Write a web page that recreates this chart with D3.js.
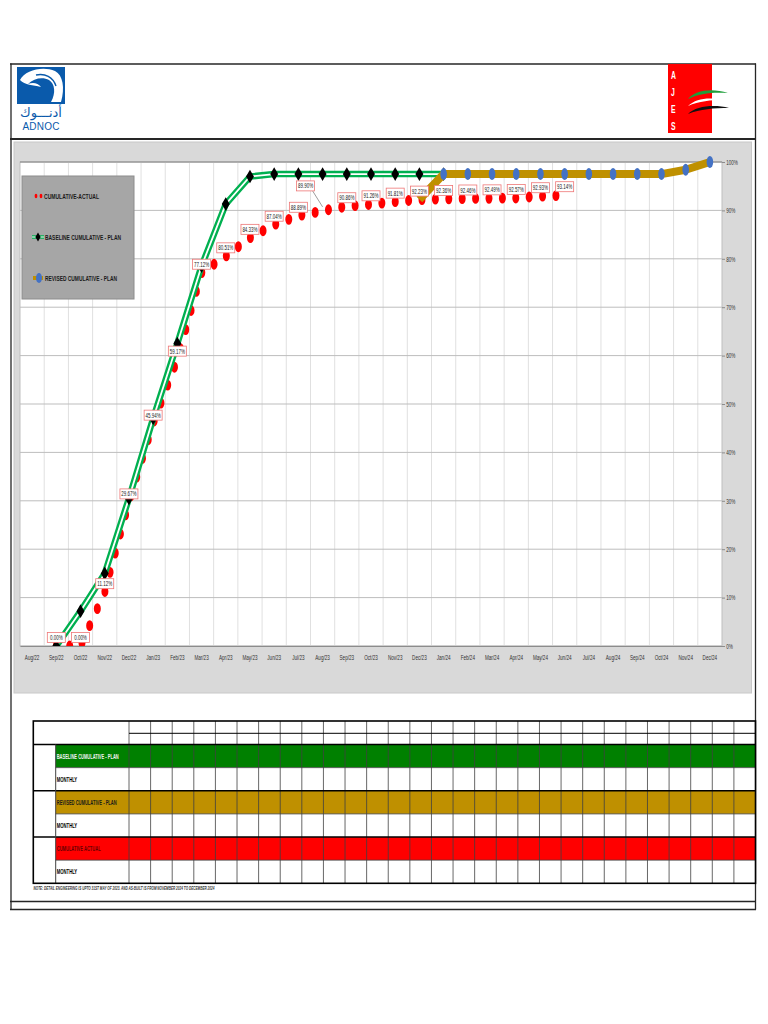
<!DOCTYPE html>
<html lang="en">
<head>
<meta charset="UTF-8">
<title>Progress S-Curve</title>
<script src="https://d3js.org/d3.v7.min.js"></script>
<style>
  body { margin: 0; background: #fff; }
  svg { display: block; font-family: "Liberation Sans", Arial, sans-serif; }
  .axis path, .axis line { stroke: #8c8c8c; }
  .axis text { fill: #333; font-size: 7.2px; }
</style>
</head>
<body>
<svg width="768" height="1024"></svg>
<script>
// ---- data (percent, aligned with months; null = no point) ----
const months = ["Aug/22","Sep/22","Oct/22","Nov/22","Dec/22","Jan/23","Feb/23","Mar/23","Apr/23",
  "May/23","Jun/23","Jul/23","Aug/23","Sep/23","Oct/23","Nov/23","Dec/23","Jan/24","Feb/24",
  "Mar/24","Apr/24","May/24","Jun/24","Jul/24","Aug/24","Sep/24","Oct/24","Nov/24","Dec/24"];

const actual = [null, 0, 0, 11.12, 29.67, 45.94, 59.17, 77.12, 80.51, 84.33, 87.04, 88.89, 89.90,
  90.86, 91.26, 91.81, 92.23, 92.36, 92.46, 92.49, 92.57, 92.93, 93.14,
  null, null, null, null, null, null];

const baseline = [null, 0, 7.2, 15.0, 30.5, 47.0, 62.5, 78.5, 91.3, 97.0, 97.5, 97.5, 97.5,
  97.5, 97.5, 97.5, 97.5, 97.5, null, null, null, null, null, null, null, null, null, null, null];

const revised = [null, null, null, null, null, null, null, null, null, null, null, null, null,
  null, null, null, 92.23, 97.5, 97.5, 97.5, 97.5, 97.5, 97.5, 97.5, 97.5, 97.5, 97.5, 98.4, 100];

const yTicks = [0, 10, 20, 30, 40, 50, 60, 70, 80, 90, 100];
const legendLabels = ["CUMULATIVE-ACTUAL", "BASELINE CUMULATIVE - PLAN", "REVISED CUMULATIVE - PLAN"];
const tableLabels = ["BASELINE CUMULATIVE - PLAN", "MONTHLY", "REVISED CUMULATIVE - PLAN",
  "MONTHLY", "CUMULATIVE ACTUAL", "MONTHLY"];
const note = "NOTE: DETAIL ENGINEERING IS UPTO 31ST MAY OF 2023. AND AS-BUILT IS FROM NOVEMBER 2024 TO DECEMBER 2024";

const GREEN = "#00B050", GOLD = "#BF9000", BLUE = "#4472C4", RED = "#FF0000";
const svg = d3.select("svg");
const narrow = "scale(0.64,1)";

// ---- page frame ----
svg.append("rect").attr("width", 768).attr("height", 1024).attr("fill", "#fff");
const frame = svg.append("g").attr("stroke", "#262626").attr("fill", "none");
frame.append("line").attr("x1", 11).attr("x2", 11).attr("y1", 63.5).attr("y2", 909.5).attr("stroke-width", 1.3);
frame.append("line").attr("x1", 755.5).attr("x2", 755.5).attr("y1", 63.5).attr("y2", 909.5).attr("stroke-width", 1.3);
frame.append("line").attr("x1", 10).attr("x2", 756).attr("y1", 64).attr("y2", 64).attr("stroke-width", 1.3);
frame.append("line").attr("x1", 10).attr("x2", 756).attr("y1", 139).attr("y2", 139).attr("stroke-width", 1.8);
frame.append("line").attr("x1", 10).attr("x2", 756).attr("y1", 901.5).attr("y2", 901.5).attr("stroke-width", 1.5);
frame.append("line").attr("x1", 10).attr("x2", 756).attr("y1", 909.5).attr("y2", 909.5).attr("stroke-width", 1.3);

// ---- ADNOC logo ----
const logo = svg.append("g");
logo.append("rect").attr("x", 17).attr("y", 67).attr("width", 48).attr("height", 37).attr("fill", "#0A5AAB");
logo.append("path").attr("fill", "#fff")
  .attr("d", "M20,80 C25,70 43,66 55,71 C63,75 65,88 61,102 L51,102 C56,93 55,84 49,80 C43,77 34,78 28,84 C33,82 38,83 41,87 C33,85 25,85 20,80 Z");
logo.append("path").attr("fill", "none").attr("stroke", "#0A5AAB").attr("stroke-width", 1.4)
  .attr("d", "M36,75 C45,73 53,77 56,86");
logo.append("text").attr("x", 41).attr("y", 117).attr("text-anchor", "middle")
  .attr("font-size", 13).attr("fill", "#0A5AAB").attr("font-family", "DejaVu Sans, sans-serif").text("أدنـــوك");
logo.append("text").attr("x", 41).attr("y", 129.5).attr("text-anchor", "middle")
  .attr("font-size", 10).attr("fill", "#0A5AAB").attr("letter-spacing", 0.2).text("ADNOC");

// ---- AJES logo ----
const ajes = svg.append("g");
ajes.append("rect").attr("x", 668).attr("y", 64).attr("width", 44).attr("height", 69).attr("fill", RED);
["A", "J", "E", "S"].forEach((c, i) => {
  ajes.append("text").attr("x", 671).attr("y", 79 + i * 17).attr("font-size", 11).attr("font-weight", "bold")
    .attr("fill", "#fff").attr("transform", "translate(671,0) scale(0.62,1) translate(-671,0)").text(c);
});
ajes.append("path").attr("fill", "#1E9E3A").attr("d", "M688,99 C695,90 712,88 728,93 C714,92 700,93 688,99 Z");
ajes.append("path").attr("fill", "#fff").attr("d", "M688,106 C696,98 710,97 723,100 C711,100 699,101 688,106 Z");
ajes.append("path").attr("fill", "#111").attr("d", "M688,114 C696,106 714,104 729,108 C714,108 700,109 688,114 Z");

// ---- chart area ----
svg.append("rect").attr("x", 14).attr("y", 142).attr("width", 737.5).attr("height", 551)
  .attr("fill", "#D9D9D9").attr("stroke", "#C8C8C8");

const plot = { left: 20, right: 722, top: 162, bottom: 646 };
svg.append("rect").attr("x", plot.left).attr("y", plot.top)
  .attr("width", plot.right - plot.left).attr("height", plot.bottom - plot.top)
  .attr("fill", "#fff").attr("stroke", "#BFBFBF");

const x = d3.scaleBand().domain(months).range([plot.left, plot.right]);
const cx = m => x(m) + x.bandwidth() / 2;
const y = d3.scaleLinear().domain([0, 100]).range([plot.bottom, plot.top]);

// gridlines
svg.append("g").selectAll("line").data(months.slice(1)).join("line")
  .attr("x1", d => x(d)).attr("x2", d => x(d)).attr("y1", plot.top).attr("y2", plot.bottom)
  .attr("stroke", "#E0E0E0").attr("stroke-width", 1);
svg.append("g").selectAll("line").data(yTicks).join("line")
  .attr("x1", plot.left).attr("x2", plot.right).attr("y1", d => y(d)).attr("y2", d => y(d))
  .attr("stroke", d => d === 100 ? "#808080" : "#BDBDBD").attr("stroke-width", 1);

// axes
const xAxis = svg.append("g").attr("class", "axis").attr("transform", `translate(0,${plot.bottom})`)
  .call(d3.axisBottom(x).tickSize(0).tickPadding(8.5));
xAxis.selectAll("text").attr("transform", narrow);

const yAxis = svg.append("g").attr("class", "axis").attr("transform", `translate(${plot.right},0)`)
  .call(d3.axisRight(y).tickValues(yTicks).tickSize(3).tickPadding(3.5).tickFormat(d => d + "%"));
yAxis.select(".domain").remove();
yAxis.selectAll("text").attr("font-size", 6.8).attr("transform", narrow);

// series
const pts = arr => months.map((m, i) => ({ m, v: arr[i] }));
svg.append("defs").append("clipPath").attr("id", "clip")
  .append("rect").attr("x", 0).attr("y", 120).attr("width", 768).attr("height", plot.bottom - 120);
const g = svg.append("g").attr("clip-path", "url(#clip)");

const line = d3.line().defined(d => d.v != null).x(d => cx(d.m)).y(d => y(d.v));

// actual: thick round-dotted line, drawn in a vertically stretched space
const k = 1.55;
const lineK = d3.line().defined(d => d.v != null).x(d => cx(d.m)).y(d => y(d.v) / k);
g.append("g").attr("transform", `scale(1,${k})`)
  .append("path").attr("d", lineK(pts(actual)))
  .attr("fill", "none").attr("stroke", RED).attr("stroke-width", 7)
  .attr("stroke-linecap", "round").attr("stroke-dasharray", "0 13.4");

// baseline: double green line + black diamonds
g.append("path").attr("d", line(pts(baseline))).attr("fill", "none")
  .attr("stroke", GREEN).attr("stroke-width", 6.5).attr("stroke-linejoin", "round");
g.append("path").attr("d", line(pts(baseline))).attr("fill", "none")
  .attr("stroke", "#fff").attr("stroke-width", 1.8).attr("stroke-linejoin", "round");
g.selectAll(".dia").data(pts(baseline).filter(d => d.v != null)).join("path")
  .attr("class", "dia").attr("d", d3.symbol().type(d3.symbolDiamond).size(54))
  .attr("transform", d => `translate(${cx(d.m)},${y(d.v)})`).attr("fill", "#000");

// revised: gold line + blue markers
g.append("path").attr("d", line(pts(revised))).attr("fill", "none")
  .attr("stroke", GOLD).attr("stroke-width", 8).attr("stroke-linejoin", "round");
g.selectAll(".rev").data(pts(revised).filter(d => d.v != null).slice(1)).join("ellipse")
  .attr("class", "rev").attr("cx", d => cx(d.m)).attr("cy", d => y(d.v))
  .attr("rx", 3.3).attr("ry", 6).attr("fill", BLUE);

// data labels on actual
const leaderMonth = "Aug/23";
const labels = svg.append("g");
pts(actual).filter(d => d.v != null).forEach(d => {
  const px = cx(d.m), py = y(d.v);
  let lx = px, ly = py - 8.5;
  if (d.m === leaderMonth) {
    lx = px - 17; ly = py - 25;
    labels.append("line").attr("x1", lx + 7).attr("y1", ly + 5).attr("x2", px).attr("y2", py - 4)
      .attr("stroke", "#595959").attr("stroke-width", 0.6);
  }
  const lg = labels.append("g").attr("transform", `translate(${lx},${ly})`);
  lg.append("rect").attr("x", -9).attr("y", -5).attr("width", 18).attr("height", 10)
    .attr("fill", "#fff").attr("stroke", "#EE7777").attr("stroke-width", 0.8);
  lg.append("text").attr("text-anchor", "middle").attr("y", 2.5).attr("font-size", 7)
    .attr("fill", "#1a1a1a").attr("transform", narrow).text(d.v.toFixed(2) + "%");
});

// legend
const leg = svg.append("g");
leg.append("rect").attr("x", 22).attr("y", 176).attr("width", 112).attr("height", 123)
  .attr("fill", "#A6A6A6").attr("stroke", "#8C8C8C");
const legY = [196, 237, 278];
const legW = [55, 76, 72];
leg.append("ellipse").attr("cx", 36).attr("cy", legY[0]).attr("rx", 1.4).attr("ry", 2.3).attr("fill", RED);
leg.append("ellipse").attr("cx", 41).attr("cy", legY[0]).attr("rx", 1.4).attr("ry", 2.3).attr("fill", RED);
leg.append("line").attr("x1", 32).attr("x2", 44).attr("y1", legY[1]).attr("y2", legY[1]).attr("stroke", GREEN).attr("stroke-width", 3.5);
leg.append("line").attr("x1", 32).attr("x2", 44).attr("y1", legY[1]).attr("y2", legY[1]).attr("stroke", "#fff").attr("stroke-width", 1);
leg.append("path").attr("d", d3.symbol().type(d3.symbolDiamond).size(24)).attr("transform", `translate(38,${legY[1]})`);
leg.append("line").attr("x1", 33).attr("x2", 43).attr("y1", legY[2]).attr("y2", legY[2]).attr("stroke", GOLD).attr("stroke-width", 4);
leg.append("ellipse").attr("cx", 39).attr("cy", legY[2]).attr("rx", 3).attr("ry", 5).attr("fill", BLUE);
legendLabels.forEach((t, i) => {
  leg.append("text").attr("x", i === 0 ? 44 : 45).attr("y", legY[i] + 3).attr("font-size", 8)
    .attr("font-weight", "bold").attr("fill", "#1a1a1a")
    .attr("textLength", legW[i]).attr("lengthAdjust", "spacingAndGlyphs").text(t);
});

// ---- table ----
const tbl = { left: 33.3, c1: 55.7, c2: 129, right: 755.5, top: 721, h1: 733.3, h2: 744.5, bottom: 883.3 };
const tx = d3.scaleBand().domain(months).range([tbl.c2, tbl.right]);
const ty = d3.scaleBand().domain(d3.range(tableLabels.length)).range([tbl.h2, tbl.bottom]);
const fills = [ "#008000", "#fff", GOLD, "#fff", RED, "#fff" ];
const textFill = [ "#f2f2f2", "#000", "#1a1a1a", "#000", "#6A0000", "#000" ];
const textW = [62, 20.5, 60, 20.5, 44, 20.5];
const t = svg.append("g");

tableLabels.forEach((lab, i) => {
  t.append("rect").attr("x", tbl.c1).attr("y", ty(i)).attr("width", tbl.right - tbl.c1)
    .attr("height", ty.bandwidth()).attr("fill", fills[i]);
  t.append("text").attr("x", tbl.c1 + 1).attr("y", ty(i) + ty.bandwidth() / 2 + 2.6).attr("font-size", 7.5)
    .attr("font-weight", "bold").attr("fill", textFill[i])
    .attr("textLength", textW[i]).attr("lengthAdjust", "spacingAndGlyphs").text(lab);
});

const thin = { stroke: "#404040", w: 0.8 };
// month column lines (header + body)
t.selectAll(".col").data(months).join("line").attr("class", "col")
  .attr("x1", d => tx(d)).attr("x2", d => tx(d)).attr("y1", tbl.top).attr("y2", tbl.bottom)
  .attr("stroke", thin.stroke).attr("stroke-width", thin.w);
// row lines
t.selectAll(".row").data(d3.range(tableLabels.length)).join("line").attr("class", "row")
  .attr("x1", d => d % 2 ? tbl.c1 : tbl.left).attr("x2", tbl.right)
  .attr("y1", d => ty(d)).attr("y2", d => ty(d))
  .attr("stroke", d => d % 2 ? thin.stroke : "#000").attr("stroke-width", d => d % 2 ? thin.w : 1.6);
t.append("line").attr("x1", tbl.c2).attr("x2", tbl.right).attr("y1", tbl.h1).attr("y2", tbl.h1)
  .attr("stroke", "#000").attr("stroke-width", 1);
t.append("line").attr("x1", tbl.c1).attr("x2", tbl.c1).attr("y1", tbl.h2).attr("y2", tbl.bottom)
  .attr("stroke", thin.stroke).attr("stroke-width", 1);
t.append("rect").attr("x", tbl.left).attr("y", tbl.top).attr("width", tbl.right - tbl.left)
  .attr("height", tbl.bottom - tbl.top).attr("fill", "none").attr("stroke", "#000").attr("stroke-width", 1.6);

svg.append("text").attr("x", 33.5).attr("y", 889.8).attr("font-size", 5).attr("font-weight", "bold")
  .attr("font-style", "italic").attr("fill", "#333").attr("textLength", 181)
  .attr("lengthAdjust", "spacingAndGlyphs").text(note);
</script>
</body>
</html>
